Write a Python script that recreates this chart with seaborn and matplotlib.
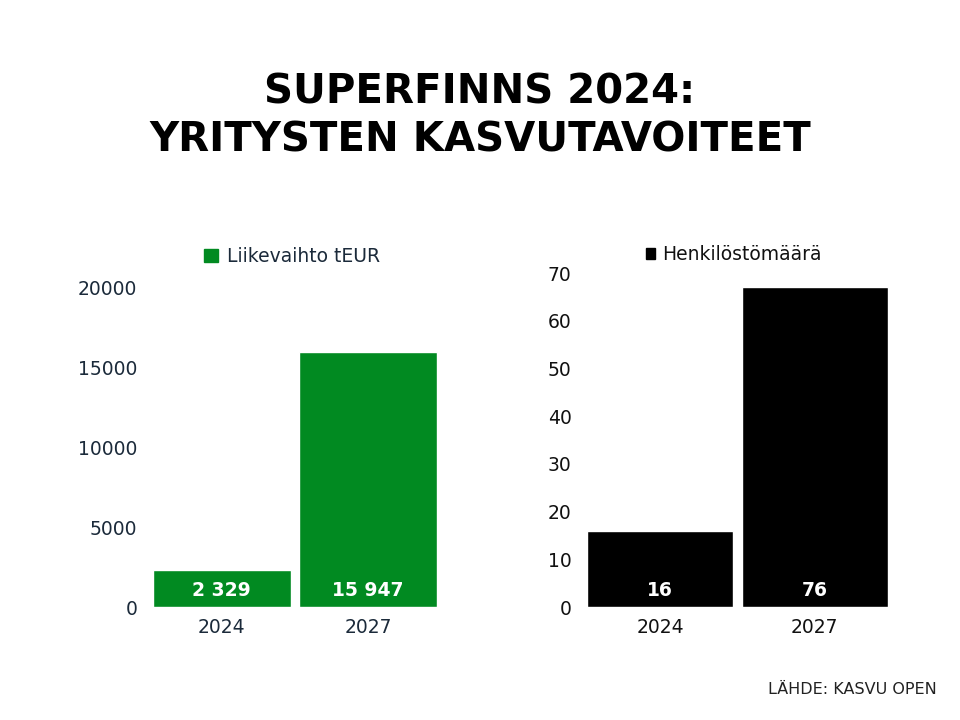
import matplotlib
matplotlib.use("Agg")
import matplotlib.pyplot as plt
import seaborn as sns
import pandas as pd
from matplotlib.patches import Patch

# ---- data ----
years = ["2024", "2027"]
revenue_values = [2329, 15947]          # Liikevaihto tEUR
staff_values = [16, 67]                 # bar heights as drawn
staff_labels = ["16", "76"]             # labels as printed on the bars
revenue_ticks = [0, 5000, 10000, 15000, 20000]
staff_ticks = [0, 10, 20, 30, 40, 50, 60, 70]

title_lines = ["SUPERFINNS 2024:", "YRITYSTEN KASVUTAVOITEET"]
revenue_legend = "Liikevaihto tEUR"
staff_legend = "Henkilöstömäärä"
source_text = "LÄHDE: KASVU OPEN"

GREEN = "#018a21"
BLACK = "#000000"
NAVY = "#1b2a3a"

sns.set_theme(style="white")
plt.rcParams["font.family"] = ["DejaVu Sans"]

fig = plt.figure(figsize=(9.6, 7.2), dpi=100)
fig.patch.set_facecolor("white")

ax1 = fig.add_axes([0.1548, 0.1569, 0.305, 0.4444])
ax2 = fig.add_axes([0.607, 0.1569, 0.322, 0.4639])

df_rev = pd.DataFrame({"year": years, "value": revenue_values})
df_staff = pd.DataFrame({"year": years, "value": staff_values})

sns.barplot(data=df_rev, x="year", y="value", ax=ax1, color=GREEN,
            width=0.94, saturation=1)
sns.barplot(data=df_staff, x="year", y="value", ax=ax2, color=BLACK,
            width=0.945, saturation=1)

ax1.set_ylim(0, 20000)
ax1.set_yticks(revenue_ticks)
ax2.set_ylim(0, 70)
ax2.set_yticks(staff_ticks)

for ax, col in ((ax1, NAVY), (ax2, "#111111")):
    ax.set_xlim(-0.5, 1.5)
    ax.set_xlabel("")
    ax.set_ylabel("")
    for s in ax.spines.values():
        s.set_visible(False)
    ax.tick_params(axis="both", length=0, labelsize=13.5, colors=col)
    ax.tick_params(axis="y", pad=8)
    ax.tick_params(axis="x", pad=8)
    ax.set_facecolor("white")

# bar labels placed near the base of each bar
rev_labels = [f"{v:,}".replace(",", " ") for v in revenue_values]
for ax, labels, ymax, top_px in ((ax1, rev_labels, 20000, 287),
                                 (ax2, staff_labels, 70, 273)):
    ann = ax.bar_label(ax.containers[0], labels=labels, label_type="edge",
                       padding=0, color="white", fontsize=13.5,
                       fontweight="bold")
    ylab = ymax * 17 / (607 - top_px)
    for t in ann:
        t.xy = (t.xy[0], ylab)
        t.xyann = (0, 0)
        t.set_va("center")

# legends
ax1.legend(handles=[Patch(facecolor=GREEN, edgecolor=GREEN, label=revenue_legend)],
           loc="center", bbox_to_anchor=(0.49, 1.095), frameon=False,
           fontsize=13.5, handlelength=0.75, handleheight=0.75, handletextpad=0.5,
           labelcolor=NAVY)
ax2.legend(handles=[Patch(facecolor=BLACK, edgecolor=BLACK, label=staff_legend)],
           loc="center", bbox_to_anchor=(0.49, 1.055), frameon=False,
           fontsize=13.5, handlelength=0.45, handleheight=0.45, handletextpad=0.4,
           labelcolor="#111111")

# title
for i, line in enumerate(title_lines):
    fig.text(0.5, 1 - (93 + 47 * i) / 720, line, ha="center", va="center",
             fontsize=29, fontweight="bold", color="black")

fig.text(937 / 960, 1 - 690 / 720, source_text, ha="right", va="center",
         fontsize=11.5, color="#222222")

fig.savefig("out.png", dpi=100, facecolor="white")
